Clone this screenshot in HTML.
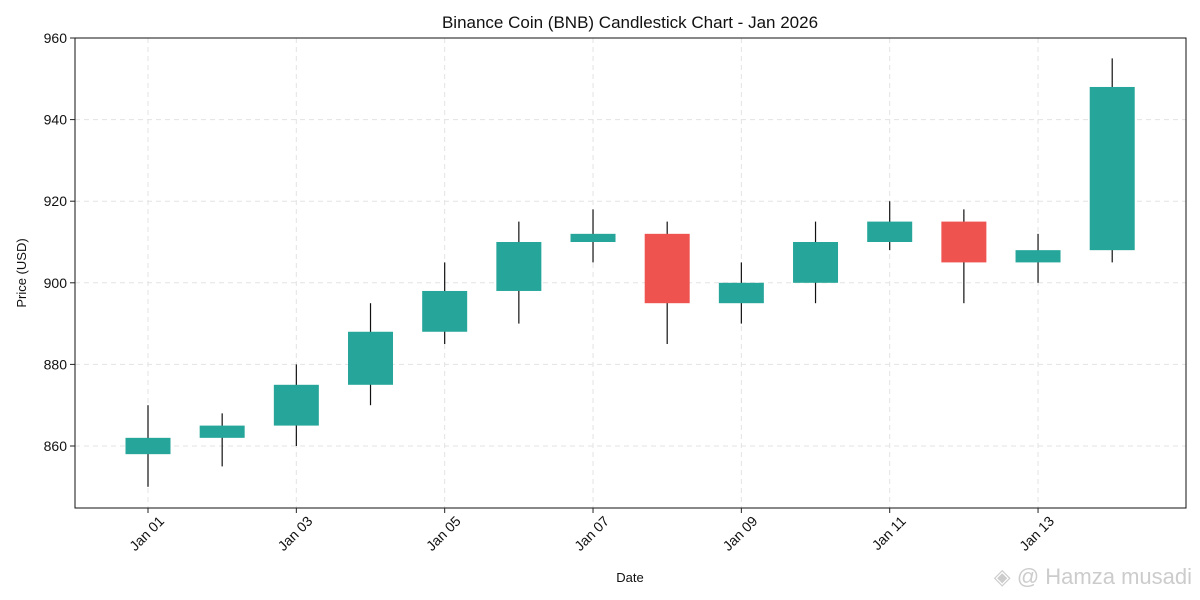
<!DOCTYPE html>
<html><head><meta charset="utf-8"><style>
html,body{margin:0;padding:0;background:#fff;}
svg{display:block;font-family:"Liberation Sans",sans-serif;}
</style></head><body>
<svg id="chart" width="1200" height="600" viewBox="0 0 1200 600">
<text x="630" y="28" text-anchor="middle" font-size="17" fill="#111">Binance Coin (BNB) Candlestick Chart - Jan 2026</text>
<g id="grid"></g>
<g id="candles"></g>
<rect x="75" y="38" width="1111" height="470" fill="none" stroke="#111" stroke-width="1"/>
<g id="yticks"></g>
<g id="xticks"></g>
<text transform="translate(26,273) rotate(-90)" text-anchor="middle" font-size="13" fill="#111">Price (USD)</text>
<text x="630" y="582" text-anchor="middle" font-size="13" fill="#111">Date</text>
<text x="1192" y="584" text-anchor="end" font-size="22" fill="#ccc">◈ @ Hamza musadi</text>
</svg>
<script>
const days=[1,2,3,4,5,6,7,8,9,10,11,12,13,14];
const opens=[858,862,865,875,888,898,910,912,895,900,910,915,905,908];
const highs=[870,868,880,895,905,915,918,915,905,915,920,918,912,955];
const lows=[850,855,860,870,885,890,905,885,890,895,908,895,900,905];
const closes=[862,865,875,888,898,910,912,895,900,910,915,905,908,948];
const yTicks=[860,880,900,920,940,960];
const xTickDays=[1,3,5,7,9,11,13];
const xTickLabels=["Jan 01","Jan 03","Jan 05","Jan 07","Jan 09","Jan 11","Jan 13"];
const NS="http://www.w3.org/2000/svg";
const L=75,R=1186,T=38,B=508;
const x=d=>148+(d-1)*74.17;
const y=v=>38+(960-v)*4.08;
function mk(tag,attrs,parent){const e=document.createElementNS(NS,tag);for(const k in attrs)e.setAttribute(k,attrs[k]);document.getElementById(parent).appendChild(e);return e;}
yTicks.forEach(v=>{
 const g=mk('line',{x1:L,x2:R,y1:y(v),y2:y(v),stroke:'#e3e3e3','stroke-dasharray':'5,4'},'grid');
 
 
 const t=mk('line',{x1:L-5,x2:L,y1:y(v),y2:y(v),stroke:'#222'},'yticks');
 
 
 const tx=mk('text',{x:L-8,y:y(v)+5,'text-anchor':'end','font-size':'14',fill:'#111'},'yticks');
 tx.textContent=v;
 
 
});
xTickDays.forEach((d,i)=>{
 const g=mk('line',{x1:x(d),x2:x(d),y1:T,y2:B,stroke:'#e3e3e3','stroke-dasharray':'5,4'},'grid');
 
 
 const t=mk('line',{x1:x(d),x2:x(d),y1:B,y2:B+5,stroke:'#222'},'xticks');
 
 
 const tx=mk('text',{transform:`translate(${x(d)+17},${B+14}) rotate(-45)`,'text-anchor':'end','font-size':'14',fill:'#111'},'xticks');
 tx.textContent=xTickLabels[i];
 
 
});
days.forEach((d,i)=>{
 const up=closes[i]>=opens[i];
 const col=up?'#26a69a':'#ef5350';
 const w=mk('line',{x1:x(d),x2:x(d),y1:y(highs[i]),y2:y(lows[i]),stroke:'#111','stroke-width':1.2},'candles');
 
 
 const top=Math.max(opens[i],closes[i]),bot=Math.min(opens[i],closes[i]);
 const r=mk('rect',{x:x(d)-22.5,y:y(top),width:45,height:Math.max(1,y(bot)-y(top)),fill:col},'candles');
 
 
});
</script>
</body></html>
